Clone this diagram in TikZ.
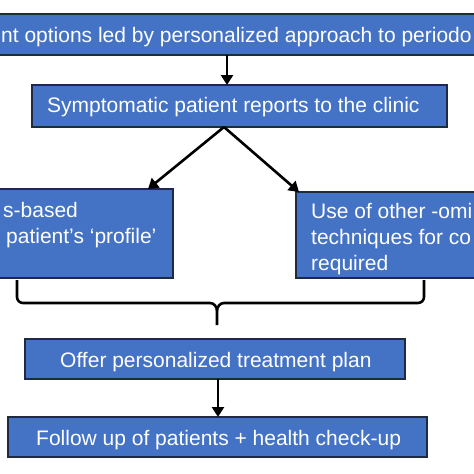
\documentclass[tikz,border=0pt]{standalone}
\usepackage{fontspec}
\setmainfont{Liberation Sans}
\usetikzlibrary{arrows.meta,calc}
\definecolor{boxblue}{HTML}{4472C4}
\definecolor{boxedge}{HTML}{1E2A40}
\begin{document}
\begin{tikzpicture}[x=1pt,y=-1pt,
  box/.style={draw=boxedge,line width=1.2pt,fill=boxblue,inner sep=0pt,outer sep=0pt},
  txt/.style={text=white,font=\fontsize{21}{25}\selectfont,inner sep=0pt,anchor=base west},
  arr/.style={line width=2.6pt,-{Triangle[length=10pt,width=12pt]}},
  brace/.style={line width=2.6pt}]
\useasboundingbox (0,0) rectangle (474,474);
\clip (0,0) rectangle (474,474);
\fill[white] (0,0) rectangle (474,474);
% boxes
\node[box,minimum width=500pt,minimum height=41pt,anchor=north west] (top) at (-13,14) {};
\node[box,minimum width=415pt,minimum height=42pt,anchor=north west] (b2) at (32,85) {};
\node[box,minimum width=193pt,minimum height=89pt,anchor=north west] (left) at (-20,189) {};
\node[box,minimum width=200pt,minimum height=86pt,anchor=north west] (right) at (296,192) {};
\node[box,minimum width=380pt,minimum height=40pt,anchor=north west] (b4) at (25,339) {};
\node[box,minimum width=419pt,minimum height=40pt,anchor=north west] (b5) at (8,417) {};
% texts
\node[txt] (t1) at (1,42) {nt options led by personalized approach to periodo};
\node[txt] (t2) at (47,112) {Symptomatic patient reports to the clinic};
\node[txt] (t3a) at (3,217) {s-based};
\node[txt] (t3b) at (6,243) {patient’s ‘profile’};
\node[txt] (t4a) at (311,218) {Use of other -omi};
\node[txt] (t4b) at (311,244) {techniques for co};
\node[txt] (t4c) at (311,270) {required};
\node[txt] (t5) at (60,367) {Offer personalized treatment plan};
\node[txt] (t6) at (36,445) {Follow up of patients + health check-up};
% connectors
\coordinate (xa) at (227,0);
\coordinate (xs) at (224,0);
\coordinate (xb) at (218,0);
\draw[arr] (top.south -| xa) -- (b2.north -| xa);
\draw[arr] (b2.south -| xs) -- ($(left.north west)+(168,0)$);
\draw[arr] (b2.south -| xs) -- ($(right.north west)+(3,0)$);
\draw[arr] (b4.south -| xb) -- (b5.north -| xb);
% brace
\coordinate (bl) at ($(left.south west)+(37,2)$);
\coordinate (br) at ($(right.south west)+(128,2)$);
\coordinate (tip) at (217,325);
\draw[brace,line join=round]
  (bl) -- ++(0,17) to[out=-90,in=180] ++(6,6) -- ($(tip)+(-7,-22)$)
  to[out=0,in=90] ($(tip)+(0,-14)$) -- (tip);
\draw[brace,line join=round]
  (br) -- ++(0,17) to[out=-90,in=0] ++(-6,6) -- ($(tip)+(7,-22)$)
  to[out=180,in=90] ($(tip)+(0,-14)$);
\end{tikzpicture}
\end{document}
